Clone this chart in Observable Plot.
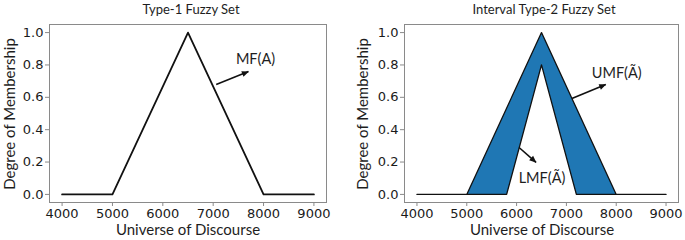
<!DOCTYPE html>
<html>
<head>
<meta charset="utf-8">
<script src="https://cdn.jsdelivr.net/npm/d3@7"></script>
<script src="https://cdn.jsdelivr.net/npm/@observablehq/plot@0.6"></script>
<style>
  html, body { margin: 0; padding: 0; background: #fff; }
  #wrap { position: relative; width: 685px; height: 240px; overflow: hidden; }
  .panel { position: absolute; top: 0; }
  .lbl { position: absolute; font-family: Lato, "Open Sans", sans-serif; color: #1e1e1e; white-space: nowrap; transform: translate(-50%, -50%); }
  .ylbl { transform: translate(-50%, -50%) rotate(-90deg); }
</style>
</head>
<body>
<div id="wrap"></div>
<script>
// ---- data ----
const xTicks = [4000, 5000, 6000, 7000, 8000, 9000];
const yTicks = [0, 0.2, 0.4, 0.6, 0.8, 1.0];
const titles = ["Type-1 Fuzzy Set", "Interval Type-2 Fuzzy Set"];
const xLabel = "Universe of Discourse";
const yLabel = "Degree of Membership";

// Type-1 membership function
const mfX = [4000, 5000, 6500, 8000, 9000];
const mfY = [0, 0, 1, 0, 0];

// Interval type-2: upper and lower membership functions
const umfX = [4000, 5000, 6500, 8000, 9000];
const umfY = [0, 0, 1, 0, 0];
const lmfX = [4000, 5800, 6500, 7200, 9000];
const lmfY = [0, 0, 0.8, 0, 0];

// annotations: label, text position, arrow tail, arrow head
const annLeft = [
  {label: "MF(A)", tx: 7840, ty: 0.833, x1: 7060, y1: 0.679, x2: 7700, y2: 0.759}
];
const annRight = [
  {label: "UMF(Ã)", tx: 8010, ty: 0.747, x1: 7110, y1: 0.593, x2: 7790, y2: 0.679},
  {label: "LMF(Ã)", tx: 6510, ty: 0.099, x1: 6050, y1: 0.29, x2: 6390, y2: 0.198}
];

// ---- helpers ----
const mf = mfX.map((x, i) => ({x, y: mfY[i]}));
const umf = umfX.map((x, i) => ({x, y: umfY[i]}));
const lmf = lmfX.map((x, i) => ({x, y: lmfY[i]}));
const band = umf.concat(lmf.slice().reverse());
const annText = new Set(annLeft.concat(annRight).map(d => d.label));

function filledHead(color, context) {
  const m = d3.create("svg:marker")
    .attr("viewBox", "-7 -4 8 8")
    .attr("markerWidth", 8)
    .attr("markerHeight", 8)
    .attr("markerUnits", "userSpaceOnUse")
    .attr("orient", "auto")
    .attr("fill", color)
    .attr("stroke", "none");
  m.append("path").attr("d", "M-6.5,-3L0.5,0L-6.5,3Z");
  const node = m.node();
  node.node = () => node;
  return node;
}

function basePlot(width, marginLeft, marginRight, marks) {
  const svg = Plot.plot({
    width, height: 240,
    marginLeft, marginRight, marginTop: 24, marginBottom: 38,
    style: {background: "transparent", overflow: "visible"},
    x: {domain: [3750, 9250], ticks: xTicks, label: null},
    y: {domain: [-0.05, 1.05], ticks: yTicks, label: null},
    marks: [
      ...marks,
      Plot.frame({stroke: "#8a8a8a", strokeWidth: 1}),
      Plot.axisX({ticks: xTicks, tickSize: 4, tickPadding: 2, stroke: "#8a8a8a", fill: "#1a1a1a",
        label: null, tickFormat: d3.format("d")}),
      Plot.axisY({ticks: yTicks, tickSize: 4, tickPadding: 2, stroke: "#8a8a8a", fill: "#1a1a1a",
        label: null, tickFormat: d3.format(".1f")})
    ]
  });
  d3.select(svg).selectAll("text").each(function () {
    if (annText.has(this.textContent)) {
      this.style.fontFamily = "Lato, sans-serif";
      this.style.fontSize = "14.5px";
    } else {
      this.style.fontFamily = "'DejaVu Sans', sans-serif";
      this.style.fontSize = "13px";
    }
  });
  return svg;
}

function annMarks(ann) {
  return [
    Plot.link(ann, {x1: "x1", y1: "y1", x2: "x2", y2: "y2", stroke: "#111", strokeWidth: 1.6, markerEnd: filledHead}),
    Plot.text(ann, {x: "tx", y: "ty", text: "label", fill: "#1e1e1e", textAnchor: "middle"})
  ];
}

const left = basePlot(340, 49, 14, [
  Plot.line(mf, {x: "x", y: "y", stroke: "#111", strokeWidth: 1.8}),
  ...annMarks(annLeft)
]);

const right = basePlot(345, 64, 7, [
  Plot.line(band, {x: "x", y: "y", fill: "#1f77b4", stroke: "#111", strokeWidth: 1.3}),
  ...annMarks(annRight)
]);

const wrap = document.getElementById("wrap");
left.classList.add("panel"); left.style.left = "0px";
right.classList.add("panel"); right.style.left = "340px";
wrap.appendChild(left);
wrap.appendChild(right);

function addLabel(text, x, y, size, cls) {
  const d = document.createElement("div");
  d.className = "lbl" + (cls ? " " + cls : "");
  d.textContent = text;
  d.style.left = x + "px";
  d.style.top = y + "px";
  d.style.fontSize = size + "px";
  wrap.appendChild(d);
}
addLabel(titles[0], 191, 9, 13);
addLabel(titles[1], 544, 9, 13);
addLabel(xLabel, 188, 229, 15);
addLabel(xLabel, 542, 229, 15);
addLabel(yLabel, 9, 114, 15, "ylbl");
addLabel(yLabel, 362, 114, 15, "ylbl");
</script>
</body>
</html>
